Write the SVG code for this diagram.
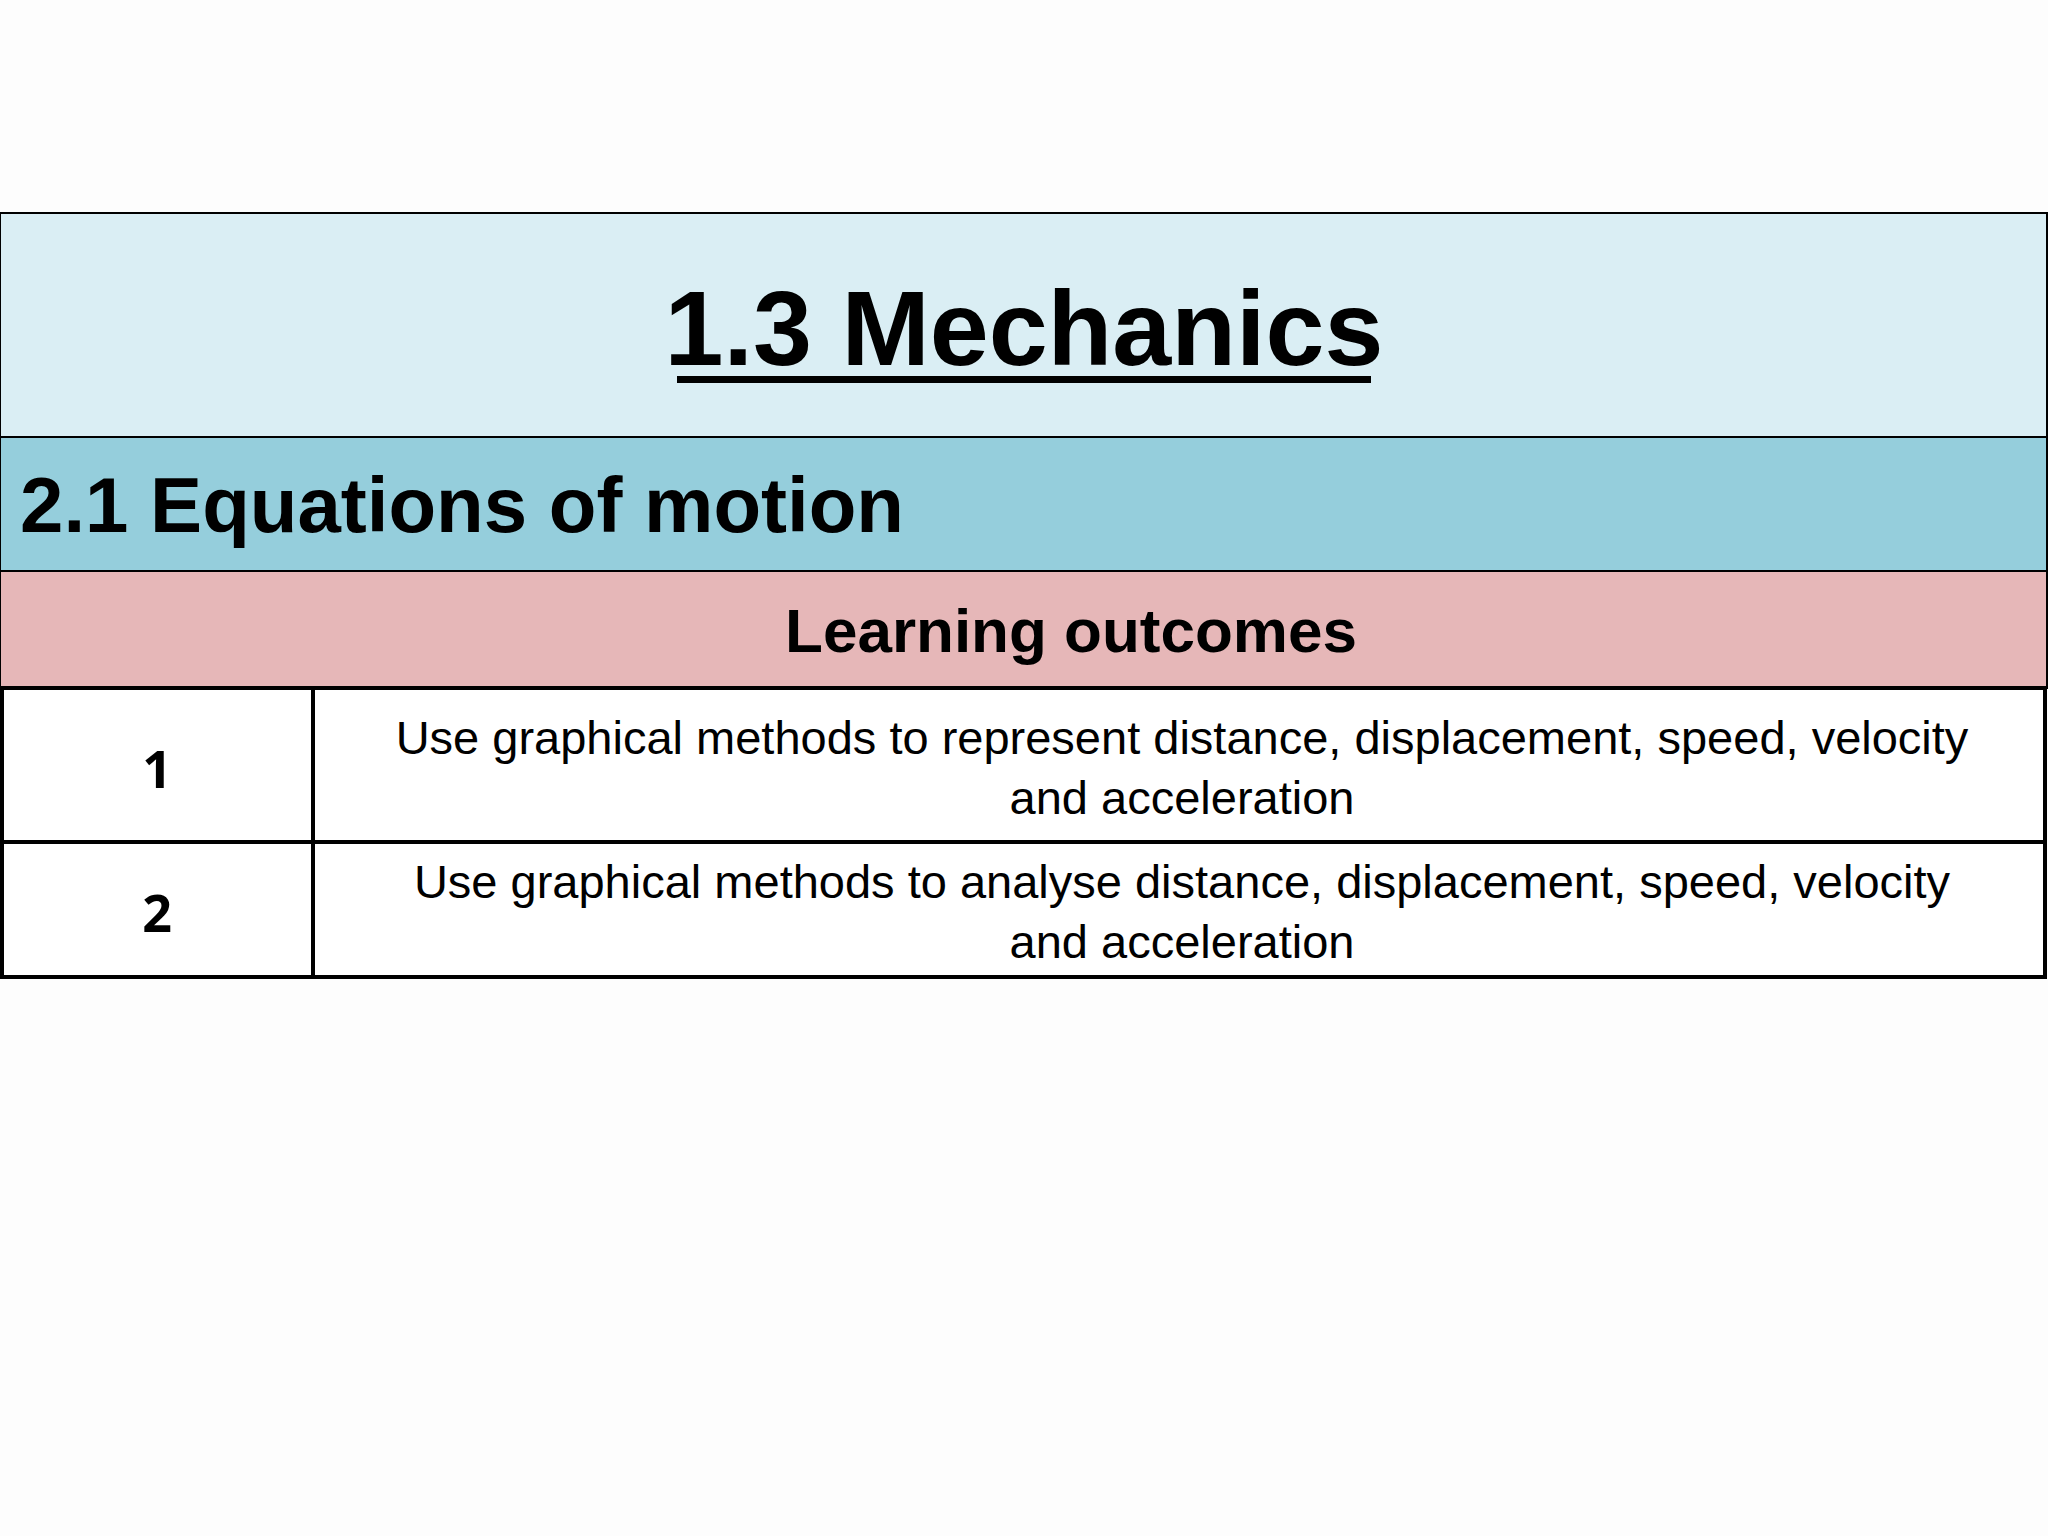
<svg xmlns="http://www.w3.org/2000/svg" width="2048" height="1536" viewBox="0 0 2048 1536">
<style>
.b{stroke:#000;stroke-width:2}
.t{font-family:"Liberation Sans",Arial,sans-serif;fill:#000}
.n{font-family:"Open Sans","Liberation Sans",sans-serif;font-weight:bold;font-size:52px;text-anchor:middle}
.r{font-size:47px;text-anchor:middle}
</style>
<rect width="2048" height="1536" fill="#fdfdfd"/>
<g id="title"><rect class="b" x="0" y="213" width="2047" height="224" fill="#daeef4"/>
<text class="t" x="1024" y="365" font-size="106" font-weight="bold" text-anchor="middle">1.3 Mechanics</text>
<rect x="677" y="376" width="694" height="7" fill="#000"/></g>
<g id="section"><rect class="b" x="0" y="437" width="2047" height="134" fill="#95cedc"/>
<text class="t" x="20" y="532" font-size="78" font-weight="bold">2.1 Equations of motion</text></g>
<g id="lo"><rect class="b" x="0" y="571" width="2047" height="117" fill="#e6b7b8"/>
<text class="t" x="1071" y="652" font-size="62" font-weight="bold" text-anchor="middle">Learning outcomes</text></g>
<g id="row1"><rect x="2" y="688" width="2043" height="154" fill="#fff" stroke="#000" stroke-width="4"/>
<line x1="313" y1="688" x2="313" y2="842" stroke="#000" stroke-width="4"/>
<text class="t n" x="157" y="788">1</text>
<text class="t r" x="1182" y="754">Use graphical methods to represent distance, displacement, speed, velocity</text>
<text class="t r" x="1182" y="814">and acceleration</text></g>
<g id="row2"><rect x="2" y="842" width="2043" height="135" fill="#fff" stroke="#000" stroke-width="4"/>
<line x1="313" y1="842" x2="313" y2="977" stroke="#000" stroke-width="4"/>
<text class="t n" x="157" y="932">2</text>
<text class="t r" x="1182" y="898">Use graphical methods to analyse distance, displacement, speed, velocity</text>
<text class="t r" x="1182" y="958">and acceleration</text></g>
<g id="connectors"/>
</svg>
